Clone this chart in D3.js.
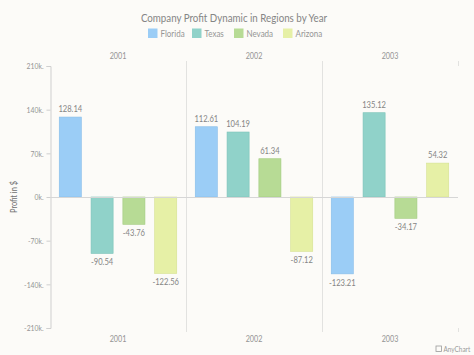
<!DOCTYPE html>
<html><head><meta charset="utf-8">
<script src="https://cdn.jsdelivr.net/npm/d3@7"></script>
<style>
html,body{margin:0;padding:0;background:#fcfbf8;}
svg{display:block;font-family:Lato,"Liberation Sans",sans-serif;}
</style></head>
<body><svg id="c" width="474" height="355"></svg>
<script>
const years = ["2001","2002","2003"];
const regions = ["Florida","Texas","Nevada","Arizona"];
const florida = [128.14, 112.61, -123.21];
const texas = [-90.54, 104.19, 135.12];
const nevada = [-43.76, 61.34, -34.17];
const arizona = [-122.56, -87.12, 54.32];
const seriesValues = [florida, texas, nevada, arizona];
const yTicks = [-210, -140, -70, 0, 70, 140, 210];
const colors = ["#9bcdf6","#90d2c9","#b7db95","#e6f0a6"];
const strokes = ["#86bde9","#7cc3b9","#a2cb7f","#d6e290"];

const SX = 0.8; // horizontal glyph compression seen in reference
const svg = d3.select("#c");
const W = 474, H = 355;
svg.append("rect").attr("width",W).attr("height",H).attr("fill","#fcfbf8");
const m = {left:50, right:16, top:66, bottom:27};
const x0 = d3.scaleBand().domain(years).range([m.left, W-m.right]).padding(0);
const x1 = d3.scaleBand().domain(regions).range([0, x0.bandwidth()]).paddingInner(0.275).paddingOuter(0.275);
const y = d3.scaleLinear().domain([-210,210]).range([H-m.bottom, m.top]);

function txt(parent, x, yy, s, size, fill, anchor){
  return parent.append("text").attr("transform",`translate(${x},${yy}) scale(${SX},1)`)
    .attr("text-anchor",anchor||"start").attr("font-size",size).attr("fill",fill).text(s);
}

const textCol = "#959595";
// title
txt(svg, 234, 22, "Company Profit Dynamic in Regions by Year", 12.2, "#858585", "middle");
// legend
const legX = [148,192,234,283];
regions.forEach((r,i)=>{
  const g = svg.append("g").attr("transform",`translate(${legX[i]},28.5)`);
  g.append("rect").attr("width",9.5).attr("height",9.5).attr("fill",colors[i]);
  txt(g, 12.5, 8.5, r, 10, textCol);
});

// separators
years.forEach((yr,i)=>{
  if(i>0){
    const xx = Math.round(x0(yr))+0.5;
    svg.append("line").attr("x1",xx).attr("x2",xx).attr("y1",m.top-5).attr("y2",H-m.bottom+4)
      .attr("stroke","#e2e2e0").attr("stroke-width",1);
  }
});
const rx = W-m.right+0.5;
svg.append("line").attr("x1",rx).attr("x2",rx).attr("y1",m.top-5).attr("y2",m.top).attr("stroke","#e2e2e0");
svg.append("line").attr("x1",rx).attr("x2",rx).attr("y1",H-m.bottom).attr("y2",H-m.bottom+4).attr("stroke","#e2e2e0");

// category labels top & bottom
years.forEach(yr=>{
  const cx = x0(yr)+x0.bandwidth()/2;
  txt(svg, cx, 59, yr, 9, textCol, "middle");
  txt(svg, cx, 342, yr, 9, textCol, "middle");
});

// y axis
const yAxis = d3.axisLeft(y).tickValues(yTicks).tickSize(4).tickPadding(3)
  .tickFormat(d=>d+"k.");
const ga = svg.append("g").attr("transform",`translate(${m.left+0.5},0)`).call(yAxis);
ga.select(".domain").attr("stroke","#cfcfcf");
ga.selectAll(".tick line").attr("stroke","#cfcfcf");
ga.selectAll(".tick text").attr("fill",textCol).attr("font-size",8.5).attr("font-family","Lato,sans-serif")
  .attr("transform",`translate(-7,0) scale(${SX},1)`).attr("x",0);

// y title
svg.append("text").attr("transform",`translate(17,${y(0)}) rotate(-90)`).attr("text-anchor","middle")
  .attr("font-size",9).attr("fill","#707070").attr("textLength",32).attr("lengthAdjust","spacingAndGlyphs").text("Profit in $");

// bars
years.forEach((yr,yi)=>{
  regions.forEach((r,ri)=>{
    const v = seriesValues[ri][yi];
    const bx = x0(yr)+x1(r);
    const top = y(Math.max(0,v)), bot = y(Math.min(0,v));
    svg.append("rect").attr("x",bx+0.5).attr("y",top).attr("width",x1.bandwidth()-1).attr("height",bot-top)
      .attr("fill",colors[ri]).attr("stroke",strokes[ri]).attr("stroke-width",0.6);
    txt(svg, bx+x1.bandwidth()/2, v>=0 ? y(v)-5 : y(v)+12, v.toFixed(2), 9.5, "#858585", "middle");
  });
});

// zero line
svg.append("line").attr("x1",m.left).attr("x2",W-m.right).attr("y1",Math.round(y(0))+0.5).attr("y2",Math.round(y(0))+0.5)
  .attr("stroke","#d6d6d6");

// credits
const cg = svg.append("g").attr("transform","translate(436,346)");
cg.append("rect").attr("x",0).attr("y",0).attr("width",5.5).attr("height",5.5).attr("fill","none").attr("stroke","#9a9a9a").attr("stroke-width",0.8);
txt(cg, 7.5, 5.5, "AnyChart", 8, "#9a9a9a");
</script></body></html>
